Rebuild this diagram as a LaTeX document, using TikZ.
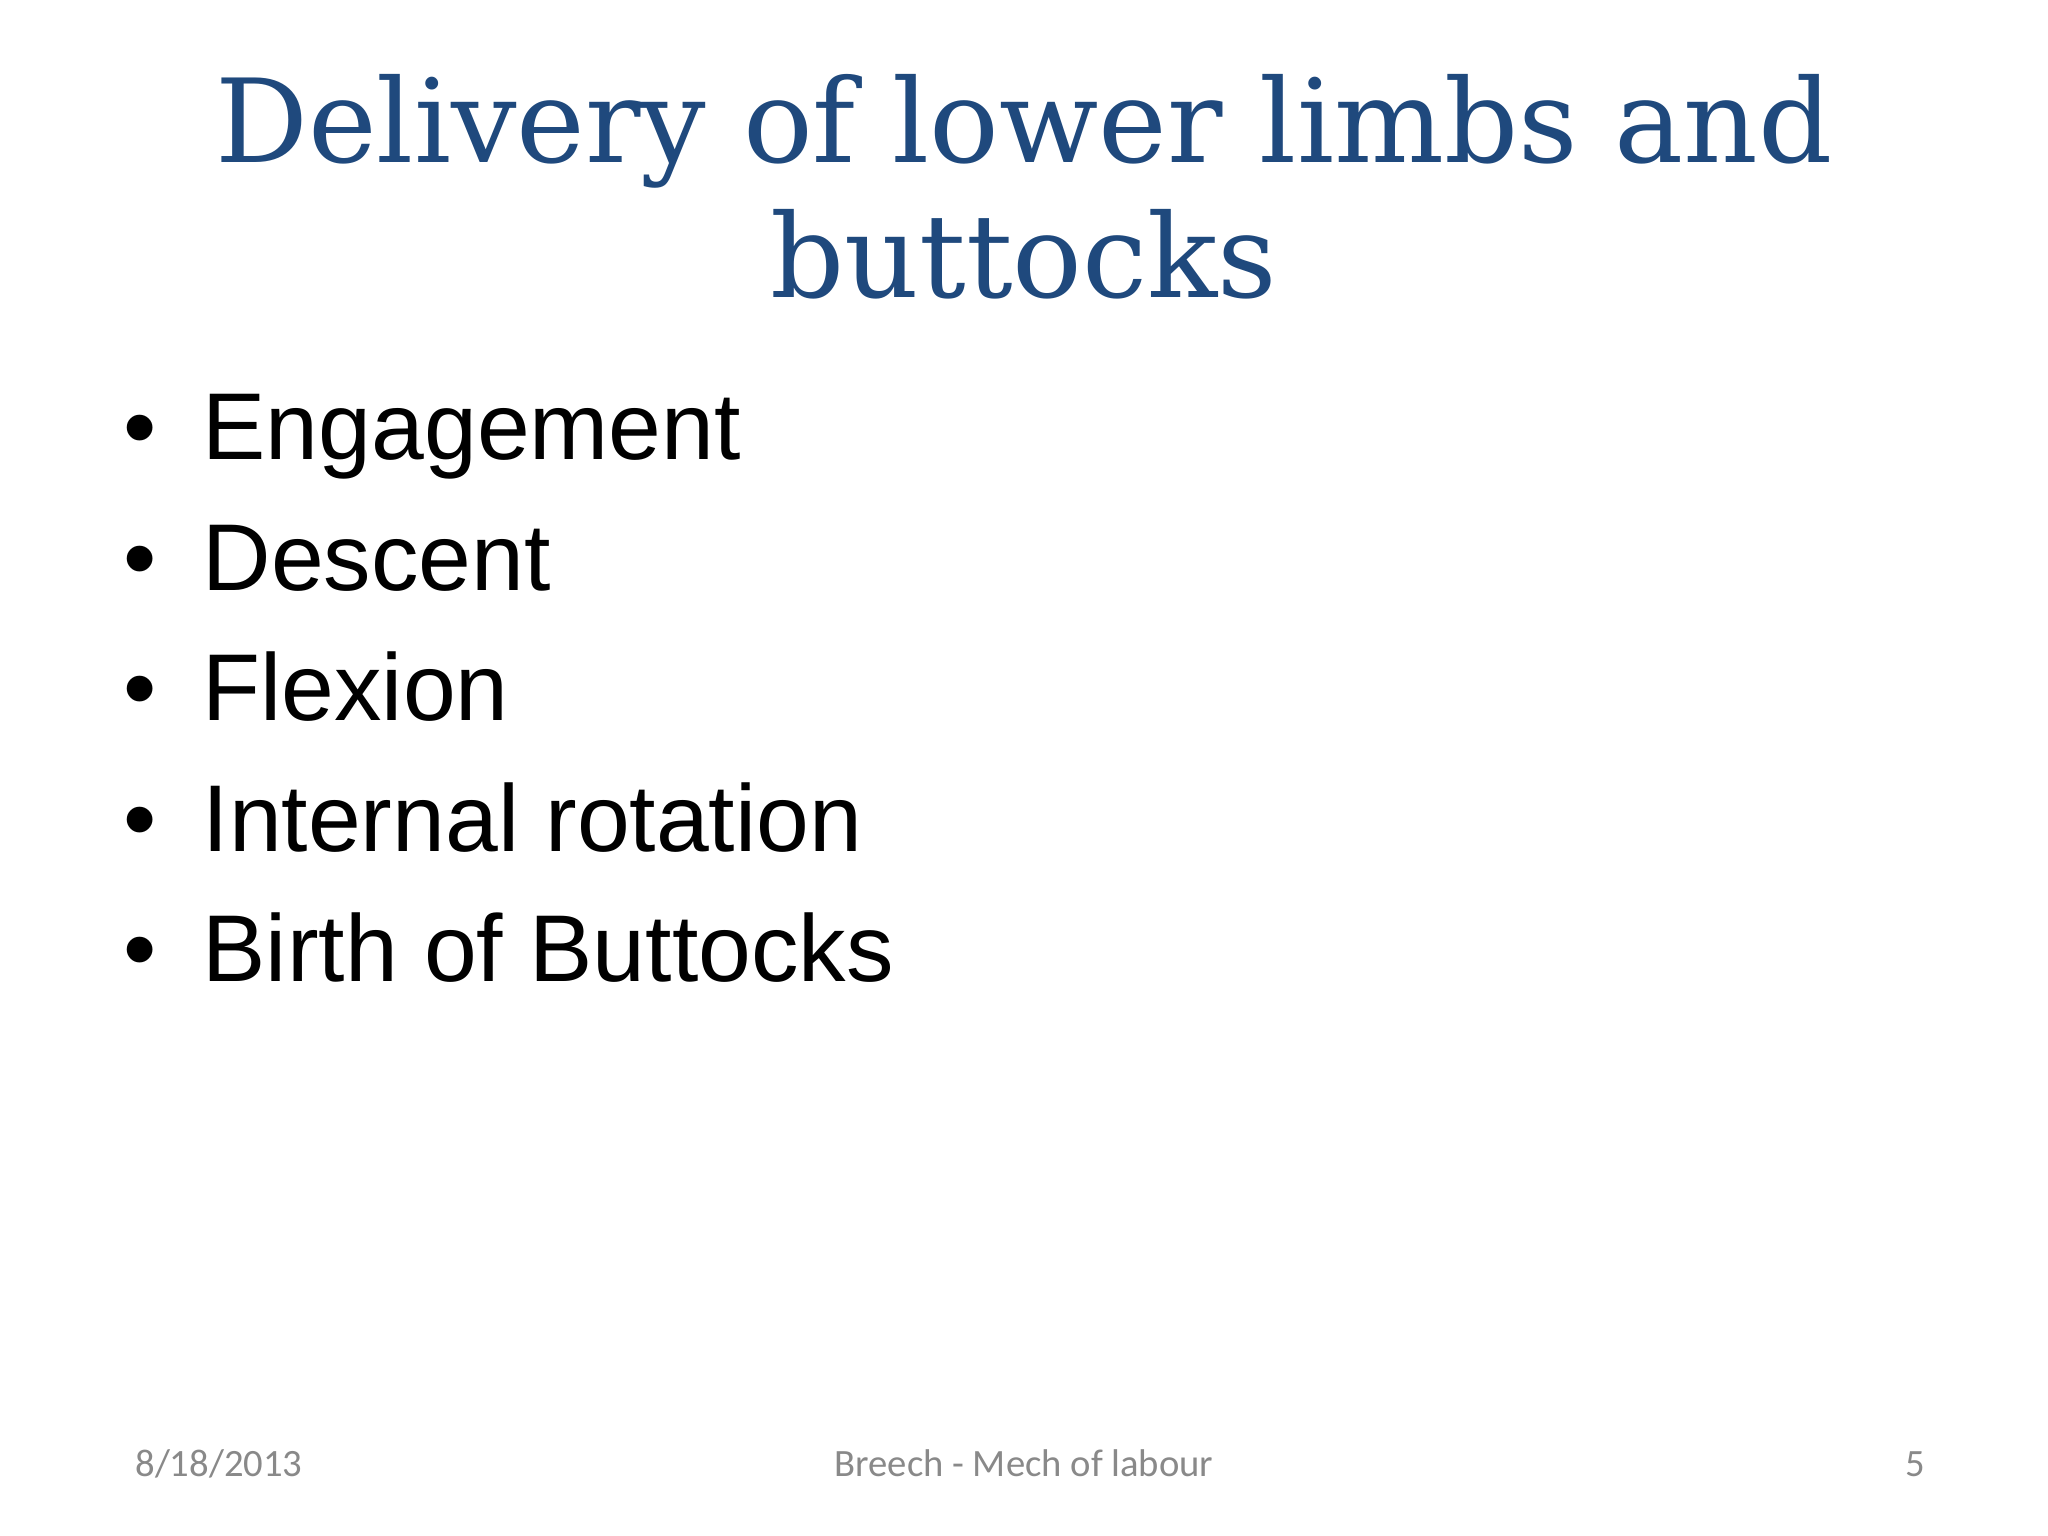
\documentclass[tikz,border=0pt]{standalone}
\usepackage{fontspec}
\setmainfont{Liberation Sans}
\newfontfamily\titlefont{DejaVu Serif}
\newfontfamily\footfont{Carlito}
\definecolor{titleblue}{RGB}{31,73,125}
\definecolor{footgray}{RGB}{137,137,137}
\tikzset{
  slidetitle/.style={font=\titlefont\fontsize{33}{38}\selectfont, text=titleblue, anchor=base},
  bullet/.style={font=\fontsize{27}{32}\selectfont, anchor=base west, inner sep=0pt},
  footer/.style={font=\footfont\fontsize{11}{13}\selectfont, text=footgray, anchor=base}
}
\begin{document}
\begin{tikzpicture}
  % Page
  \useasboundingbox[fill=white] (0,0) rectangle (20.48,-15.36);

  % Title
  \node[slidetitle] (title1) at (10.24,-1.63) {Delivery of lower limbs and};
  \node[slidetitle] (title2) at (10.24,-2.98) {buttocks};

  % Bullets
  \foreach \txt [count=\i] in {Engagement, Descent, Flexion, Internal rotation, Birth of Buttocks} {
    \node[bullet] (item\i) at (2.02,{-4.60-1.305*(\i-1)}) {\txt};
    \node[bullet, anchor=base] (dot\i) at (1.40,{-4.60-1.305*(\i-1)}) {\textbullet};
  }

  % Footer
  \node[footer, anchor=base west] (date) at (1.23,-14.76) {8/18/2013};
  \node[footer] (topic) at (10.24,-14.76) {Breech - Mech of labour};
  \node[footer] (page) at (19.15,-14.76) {5};
\end{tikzpicture}
\end{document}
